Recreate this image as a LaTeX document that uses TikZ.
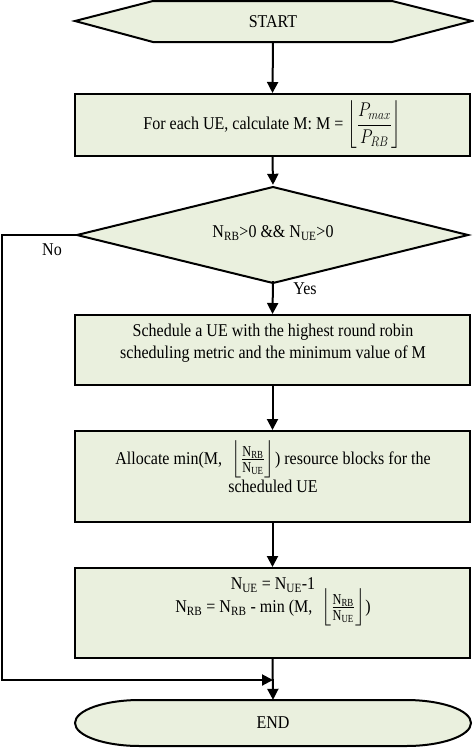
\documentclass[tikz,border=0pt]{standalone}
\usepackage{amsmath}
\usepackage{graphicx}
\usepackage{fontspec}
\setmainfont[FakeStretch=0.89]{Liberation Serif}
\usetikzlibrary{arrows.meta}
\definecolor{boxfill}{RGB}{234,240,222}
\newcommand{\sqz}[1]{\scalebox{0.95}[1.15]{#1}}
\newcommand{\nfrac}{\scalebox{1.1}[1.2]{$\left\lfloor\frac{\text{N}_{\text{RB}}}{\text{N}_{\text{UE}}}\right\rfloor$}}
\begin{document}
\begin{tikzpicture}[x=1pt,y=-1pt,
  font=\fontsize{18}{22}\selectfont,
  outline/.style={draw, line width=2pt, fill=boxfill},
  box/.style={outline, minimum width=395pt, inner sep=0pt},
  txt/.style={align=center, inner sep=0pt},
  hold/.style={inner sep=0pt, align=center},
  arr/.style={line width=2pt, -{Triangle[length=11pt,width=11pt]}}]
\useasboundingbox (0,0) rectangle (474,748);

% START hexagon
\draw[outline] (75,21) -- (153,1) -- (392,1) -- (472,21) -- (392,42) -- (153,42) -- cycle;
\node[hold, minimum width=397pt, minimum height=41pt] (start) at (273,21.5) {START};

% box 1
\node[box, minimum height=62pt] (b1) at (272.5,125)
  {For each UE, calculate M: M = \sqz{$\left\lfloor\dfrac{P_{max}}{P_{RB}}\right\rfloor$}};

% decision
\draw[outline] (77,235) -- (273,187) -- (468,235) -- (273,283) -- cycle;
\node[hold, minimum width=391pt, minimum height=96pt] (dec) at (273,233)
  {N\textsubscript{RB}>0 \&\& N\textsubscript{UE}>0};

% box 2
\node[box, minimum height=70pt] (b2) at (272.5,350) {};
\node[txt] (t2) at (273,343) {Schedule a UE with the highest round robin\\
  scheduling metric and the minimum value of M};

% box 3
\node[box, minimum height=91pt] (b3) at (272.5,476.5) {};
\node[txt] (t3) at (273,467) {Allocate min(M,\enspace\nfrac) resource blocks for the\\[1pt]
  scheduled UE};

% box 4
\node[box, minimum height=90pt] (b4) at (272.5,613) {};
\node[txt] (t4) at (273,602) {N$_{\text{UE}}$ = N$_{\text{UE}}$-1\\[-4pt]
  N$_{\text{RB}}$ = N$_{\text{RB}}$ - min (M,\enspace\nfrac)};

% END terminal
\draw[outline] (140,700) -- (406,700)
  arc[start angle=-90, end angle=90, x radius=65, y radius=23]
  -- (140,746)
  arc[start angle=90, end angle=270, x radius=65, y radius=23] -- cycle;
\node[hold, minimum width=396pt, minimum height=46pt] (endn) at (273,723) {END};

% connectors
\draw[arr] (start.south) -- (b1.north);
\draw[arr] (b1.south) -- (dec.north);
\draw[arr] (dec.south) -- (b2.north);
\draw[arr] (b2.south) -- (b3.north);
\draw[arr] (b3.south) -- (b4.north);
\draw[arr] (b4.south) -- (endn.north);

\coordinate (nl) at (2,235);
\coordinate (nb) at (2,680);
\coordinate (nj) at (273,680);
\draw[arr] (77,235) -- (nl) -- (nb) -- (nj);

\node[txt] (no) at (52,250) {No};
\node[txt] (yes) at (305,289) {Yes};
\end{tikzpicture}
\end{document}
